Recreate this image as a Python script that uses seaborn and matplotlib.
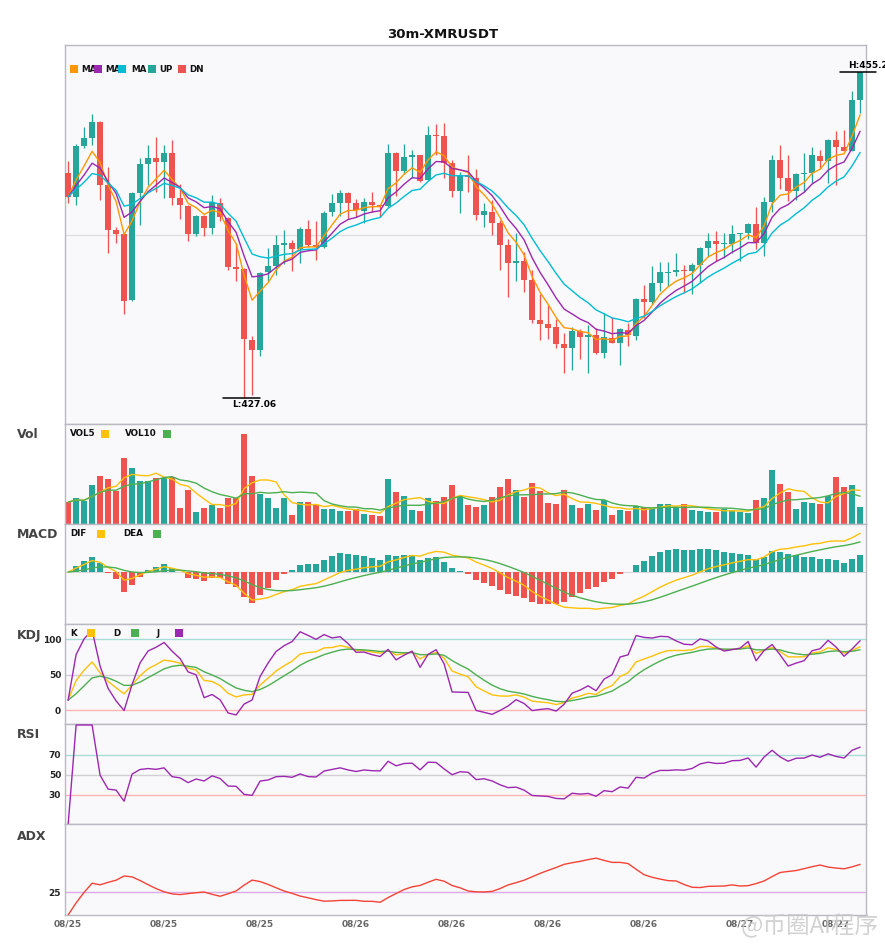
import numpy as np
import pandas as pd
import matplotlib
matplotlib.use("Agg")
import matplotlib.pyplot as plt
import seaborn as sns
from matplotlib.patches import Rectangle

# ---------------- data ----------------
title = "30m-XMRUSDT"

open_ = [446.48, 444.43, 448.81, 449.50, 450.88, 445.44, 441.56, 441.21, 435.52, 444.75,
         447.25, 447.77, 447.43, 448.20, 444.32, 443.63, 441.21, 442.77, 441.73, 443.89,
         442.59, 438.36, 438.19, 432.06, 431.20, 437.93, 438.45, 440.26, 440.44, 439.92,
         441.64, 440.26, 440.09, 443.11, 443.89, 444.75, 443.89, 443.20, 443.97, 443.71,
         443.63, 448.20, 446.65, 447.86, 448.03, 445.87, 449.76, 449.67, 447.34, 444.92,
         446.30, 446.05, 442.85, 443.11, 442.16, 440.26, 438.71, 438.88, 437.24, 433.79,
         433.44, 433.19, 431.72, 431.37, 432.84, 432.32, 432.49, 430.94, 432.24, 431.80,
         432.93, 432.41, 435.60, 435.34, 436.98, 437.85, 437.94, 438.11, 438.03, 438.54,
         440.01, 440.62, 440.36, 440.36, 441.22, 441.31, 442.08, 440.44, 443.98, 447.61,
         446.05, 444.93, 446.40, 446.48, 447.95, 447.52, 449.33, 448.73, 448.38, 452.78]

high = [447.51, 448.98, 450.45, 451.57, 450.96, 446.99, 441.84, 441.27, 444.81, 447.77,
        448.89, 449.58, 448.89, 449.32, 445.53, 443.71, 442.82, 442.85, 444.58, 444.32,
        442.68, 440.41, 438.25, 432.41, 437.93, 440.00, 441.13, 441.56, 440.69, 441.82,
        442.42, 442.33, 443.20, 444.66, 445.01, 444.84, 444.23, 444.32, 444.84, 443.71,
        448.98, 448.26, 448.98, 448.46, 448.03, 450.53, 450.71, 450.79, 447.60, 446.56,
        448.03, 446.82, 443.89, 444.15, 442.42, 440.78, 441.30, 439.66, 438.10, 436.03,
        435.08, 433.88, 432.67, 433.19, 433.01, 433.36, 433.10, 434.39, 434.05, 433.10,
        433.53, 435.69, 436.81, 438.45, 438.80, 438.80, 439.58, 438.54, 438.72, 440.10,
        441.31, 441.48, 441.31, 442.00, 441.31, 442.14, 443.55, 444.41, 448.04, 448.90,
        448.04, 446.48, 448.21, 448.73, 448.47, 449.39, 450.11, 450.20, 453.56, 455.20]

low = [443.92, 443.71, 448.66, 448.89, 444.15, 439.57, 440.44, 434.31, 435.43, 441.99,
       445.44, 444.84, 444.32, 443.71, 442.51, 440.61, 441.04, 441.04, 441.21, 442.33,
       438.10, 437.16, 427.06, 427.32, 430.68, 437.16, 437.67, 438.62, 438.02, 438.71,
       440.09, 438.97, 440.00, 442.77, 442.77, 442.51, 442.68, 442.16, 443.11, 442.68,
       443.54, 444.49, 446.39, 446.05, 445.70, 445.87, 448.03, 446.05, 444.41, 443.02,
       444.84, 442.42, 441.82, 441.13, 438.10, 435.77, 437.16, 436.21, 433.53, 432.06,
       432.15, 431.37, 429.21, 429.47, 430.42, 429.21, 430.85, 430.51, 431.80, 429.90,
       431.55, 432.06, 433.96, 435.17, 436.29, 436.72, 437.59, 436.13, 436.04, 436.99,
       439.23, 438.89, 439.15, 439.58, 438.89, 440.79, 439.92, 439.32, 443.12, 445.10,
       444.07, 444.15, 444.84, 445.62, 446.83, 445.62, 445.45, 448.38, 448.38, 451.66]

close = [444.43, 448.81, 449.50, 450.88, 445.44, 441.56, 441.21, 435.43, 444.75, 447.25,
         447.77, 447.43, 448.20, 444.32, 443.71, 441.21, 442.77, 441.73, 443.97, 442.68,
         438.36, 438.19, 432.15, 431.20, 437.85, 438.45, 440.26, 440.44, 439.92, 441.64,
         440.26, 440.09, 443.02, 443.89, 444.75, 443.89, 443.28, 443.97, 443.71, 443.63,
         448.20, 446.65, 447.86, 448.03, 445.79, 449.76, 449.67, 447.34, 444.92, 446.30,
         446.10, 442.85, 443.20, 442.16, 440.26, 438.71, 438.88, 437.24, 433.79, 433.44,
         433.10, 431.72, 431.37, 432.84, 432.32, 432.49, 430.94, 432.32, 431.80, 433.01,
         432.49, 435.60, 435.34, 436.98, 437.93, 437.93, 438.11, 438.03, 438.54, 440.01,
         440.62, 440.36, 440.44, 441.22, 441.31, 442.08, 440.44, 443.98, 447.61, 446.05,
         444.93, 446.40, 446.48, 448.04, 447.52, 449.33, 448.73, 448.38, 452.78, 455.20]

volume = [990, 1170, 1050, 1755, 2160, 2025, 1485, 2970, 2520, 1935,
          1935, 2070, 2070, 2115, 720, 1530, 540, 720, 855, 720,
          1170, 1170, 4050, 2160, 1350, 1170, 720, 1170, 405, 990,
          990, 855, 675, 675, 585, 585, 675, 450, 405, 360,
          2025, 1440, 1260, 630, 585, 1170, 1035, 1215, 1755, 1260,
          855, 765, 855, 1215, 1665, 2025, 1530, 1215, 1845, 1485,
          945, 900, 1530, 855, 720, 900, 630, 1080, 405, 630,
          585, 810, 765, 720, 900, 900, 765, 900, 630, 585,
          540, 540, 675, 630, 540, 495, 1080, 1170, 2430, 1800,
          1440, 675, 990, 945, 900, 1260, 2115, 1665, 1755, 765]

tick_labels = ["08/25", "08/25", "08/25", "08/26", "08/26", "08/26", "08/26", "08/27", "08/27"]
ma_spans = [5, 8, 13]
watermark = "@币圈AI程序"

# ---------------- derived indicators ----------------
df = pd.DataFrame({"open": open_, "high": high, "low": low, "close": close, "vol": volume})
n = len(df)
idx = np.arange(n)
c = df["close"]
mas = [c.ewm(span=s, adjust=False).mean() for s in ma_spans]

vol5 = df["vol"].rolling(5, min_periods=1).mean()
vol10 = df["vol"].rolling(10, min_periods=1).mean()

dif = c.ewm(span=12, adjust=False).mean() - c.ewm(span=26, adjust=False).mean()
dea = dif.ewm(span=9, adjust=False).mean()
hist = 2 * (dif - dea)

ll = df["low"].rolling(9, min_periods=1).min()
hh = df["high"].rolling(9, min_periods=1).max()
rsv = (c - ll) / (hh - ll) * 100
K = rsv.ewm(com=2, adjust=False).mean()
D = K.ewm(com=2, adjust=False).mean()
J = 3 * K - 2 * D

delta = c.diff().fillna(0)
ag = delta.clip(lower=0).ewm(alpha=1 / 14, adjust=True).mean()
al = (-delta.clip(upper=0)).ewm(alpha=1 / 14, adjust=True).mean()
rsi = (100 * ag / (ag + al)).fillna(0)

h_, l_ = df["high"], df["low"]
up = h_.diff().fillna(0)
dn = (-l_.diff()).fillna(0)
pdm = pd.Series(np.where((up > dn) & (up > 0), up, 0.0))
mdm = pd.Series(np.where((dn > up) & (dn > 0), dn, 0.0))
pc = c.shift(1)
tr = pd.concat([h_ - l_, (h_ - pc).abs(), (l_ - pc).abs()], axis=1).max(axis=1)
atr = tr.ewm(span=14, adjust=False).mean()
pdi = 100 * pdm.ewm(span=14, adjust=False).mean() / atr
mdi = 100 * mdm.ewm(span=14, adjust=False).mean() / atr
dx = (100 * (pdi - mdi).abs() / (pdi + mdi)).fillna(0)
adx = dx.ewm(span=14, adjust=False).mean()

# ---------------- style ----------------
sns.set_theme(style="white")
plt.rcParams["font.family"] = ["DejaVu Sans"]
plt.rcParams["font.weight"] = "bold"

UP, DN = "#26a69a", "#ef5350"
MA_COLORS = ["#ff9800", "#9c27b0", "#00bcd4"]
YEL, GRN, PUR = "#ffc107", "#4caf50", "#9c27b0"
FACE = "#f9f9fb"
SPINE = "#b9b9c2"

W, HGT = 885, 950
fig = plt.figure(figsize=(W / 100, HGT / 100), dpi=100)
fig.patch.set_facecolor("white")


def box(top, bottom):
    return [65.3 / W, 1 - bottom / HGT, (865.7 - 65.3) / W, (bottom - top) / HGT]


ax_main = fig.add_axes(box(45, 424))
ax_vol = fig.add_axes(box(424, 524), sharex=ax_main)
ax_macd = fig.add_axes(box(524, 624), sharex=ax_main)
ax_kdj = fig.add_axes(box(624, 724), sharex=ax_main)
ax_rsi = fig.add_axes(box(724, 824), sharex=ax_main)
ax_adx = fig.add_axes(box(824, 915), sharex=ax_main)
axes = [ax_main, ax_vol, ax_macd, ax_kdj, ax_rsi, ax_adx]

for ax in axes:
    ax.set_facecolor(FACE)
    for s in ax.spines.values():
        s.set_color(SPINE)
        s.set_linewidth(1.0)
    ax.tick_params(axis="both", length=0, labelsize=6.5, pad=3, labelcolor="#222222")
    ax.set_yticks([])
    ax.grid(False)
for ax in axes[:-1]:
    ax.tick_params(axis="x", labelbottom=False)

colors = [UP if cl >= op else DN for op, cl in zip(df["open"], df["close"])]

# ---------------- main candles ----------------
ax_main.vlines(idx, df["low"], df["high"], colors=colors, linewidth=0.95, zorder=2)
body = np.maximum((df["close"] - df["open"]).abs(), 0.09)
bottoms = np.minimum(df["open"], df["close"])
ax_main.bar(idx, body, bottom=bottoms, width=0.75, color=colors, linewidth=0, zorder=3)
for m, col in zip(mas, MA_COLORS):
    sns.lineplot(x=idx, y=m.values, ax=ax_main, color=col, linewidth=1.0, estimator=None,
                 legend=False, zorder=4)
lo, hi = df["low"].min(), df["high"].max()
rng = hi - lo
ax_main.set_ylim(lo - rng * 0.080, hi + rng * 0.083)
ax_main.axhline((lo + hi) / 2, color="#dcdce0", linewidth=0.9, zorder=1)
ax_main.set_xlim(-0.35, n - 0.3)

ih, il = int(df["high"].idxmax()), int(df["low"].idxmin())
ax_main.plot([ih - 2.5, ih + 2.0], [hi, hi], color="black", linewidth=1.1, clip_on=False, zorder=5)
ax_main.annotate(f"H:{hi:g}", xy=(ih - 1.5, hi), xytext=(0, 1.5), textcoords="offset points",
                 ha="left", va="bottom", fontsize=6.5, fontweight="bold", color="black",
                 annotation_clip=False)
ax_main.plot([il - 2.6, il + 2.0], [lo, lo], color="black", linewidth=1.1, clip_on=False, zorder=5)
ax_main.annotate(f"L:{lo:g}", xy=(il - 1.5, lo), xytext=(0, -1.5), textcoords="offset points",
                 ha="left", va="top", fontsize=6.5, fontweight="bold", color="black",
                 annotation_clip=False)

# ---------------- volume ----------------
ax_vol.bar(idx, df["vol"], width=0.75, color=colors, linewidth=0, zorder=2)
sns.lineplot(x=idx, y=vol5.values, ax=ax_vol, color=YEL, linewidth=1.0, estimator=None, legend=False, zorder=3)
sns.lineplot(x=idx, y=vol10.values, ax=ax_vol, color=GRN, linewidth=1.0, estimator=None, legend=False, zorder=3)
ax_vol.set_ylim(0, df["vol"].max() * 1.111)

# ---------------- MACD ----------------
hcol = [UP if v >= 0 else DN for v in hist]
ax_macd.bar(idx, hist, width=0.75, color=hcol, linewidth=0, zorder=2)
sns.lineplot(x=idx, y=dif.values, ax=ax_macd, color=YEL, linewidth=1.0, estimator=None, legend=False, zorder=3)
sns.lineplot(x=idx, y=dea.values, ax=ax_macd, color=GRN, linewidth=1.0, estimator=None, legend=False, zorder=3)
mb = 1.4 * min(dif.min(), dea.min(), hist.min())
ax_macd.set_ylim(mb, -mb * 0.923)
ax_macd.axhline(0, color="#d6d6da", linewidth=0.8, zorder=1)

# ---------------- KDJ ----------------
for lv, col in [(100, "#a8dcd6"), (50, "#d0d0d4"), (0, "#ffb4b4")]:
    ax_kdj.axhline(lv, color=col, linewidth=1.0, zorder=1)
sns.lineplot(x=idx, y=K.values, ax=ax_kdj, color=YEL, linewidth=1.0, estimator=None, legend=False, zorder=3)
sns.lineplot(x=idx, y=D.values, ax=ax_kdj, color=GRN, linewidth=1.0, estimator=None, legend=False, zorder=3)
sns.lineplot(x=idx, y=J.values, ax=ax_kdj, color=PUR, linewidth=1.0, estimator=None, legend=False, zorder=3)
ax_kdj.set_ylim(-19.3, 121.5)
ax_kdj.set_yticks([0, 50, 100])

# ---------------- RSI ----------------
for lv, col in [(70, "#a8dcd6"), (50, "#d0d0d4"), (30, "#ffb4b4")]:
    ax_rsi.axhline(lv, color=col, linewidth=1.0, zorder=1)
sns.lineplot(x=idx, y=rsi.values, ax=ax_rsi, color=PUR, linewidth=1.0, estimator=None, legend=False, zorder=3)
ax_rsi.set_ylim(1, 101)
ax_rsi.set_yticks([30, 50, 70])

# ---------------- ADX ----------------
ax_adx.axhline(25, color="#dcaae6", linewidth=1.0, zorder=1)
sns.lineplot(x=idx, y=adx.values, ax=ax_adx, color="#f44336", linewidth=1.0, estimator=None, legend=False, zorder=3)
ax_adx.set_ylim(0, 100)
ax_adx.set_yticks([25])
ax_adx.set_xticks(list(range(0, n, 12)))
ax_adx.set_xticklabels(tick_labels)
ax_adx.tick_params(axis="x", labelcolor="#666666", labelsize=6.5, pad=3)
ax_adx.set_xlim(-0.35, n - 0.3)

# ---------------- titles, labels, legends ----------------
fig.text(443 / W, 1 - 34 / HGT, title, ha="center", va="center", fontsize=9.5, fontweight="bold", color="#111111")

for name, ypx in [("Vol", 435), ("MACD", 535), ("KDJ", 636), ("RSI", 735), ("ADX", 836)]:
    fig.text(17 / W, 1 - ypx / HGT, name, ha="left", va="center", fontsize=9, fontweight="bold", color="#444444")


def legend_items(items, ycen):
    for kind, xpx, val in items:
        if kind == "t":
            fig.text(xpx / W, 1 - ycen / HGT, val, ha="left", va="center", fontsize=6.3,
                     fontweight="bold", color="#111111", zorder=10)
        else:
            fig.add_artist(Rectangle((xpx / W, 1 - (ycen + 4) / HGT), 8 / W, 8 / HGT,
                                     transform=fig.transFigure, facecolor=val, edgecolor="none", zorder=11))


legend_items([("s", 70, MA_COLORS[0]), ("t", 81, "MA"), ("s", 94, MA_COLORS[1]), ("t", 105, "MA"),
              ("s", 118, MA_COLORS[2]), ("t", 131, "MA"), ("s", 148, UP), ("t", 159, "UP"),
              ("s", 178, DN), ("t", 189, "DN")], 69)
legend_items([("t", 70, "VOL5"), ("s", 101, YEL), ("t", 125, "VOL10"), ("s", 163, GRN)], 434)
legend_items([("t", 70, "DIF"), ("s", 97, YEL), ("t", 123, "DEA"), ("s", 153, GRN)], 534)
legend_items([("t", 70, "K"), ("s", 87, YEL), ("t", 113, "D"), ("s", 131, GRN),
              ("t", 157, "J"), ("s", 175, PUR)], 633)

fig.text(879 / W, 1 - 926 / HGT, watermark, ha="right", va="center", fontsize=17,
         fontweight="normal", color="#cacaca", alpha=0.85,
         family=["Noto Sans CJK SC", "DejaVu Sans"], zorder=20)

fig.savefig("out.png", dpi=100)
